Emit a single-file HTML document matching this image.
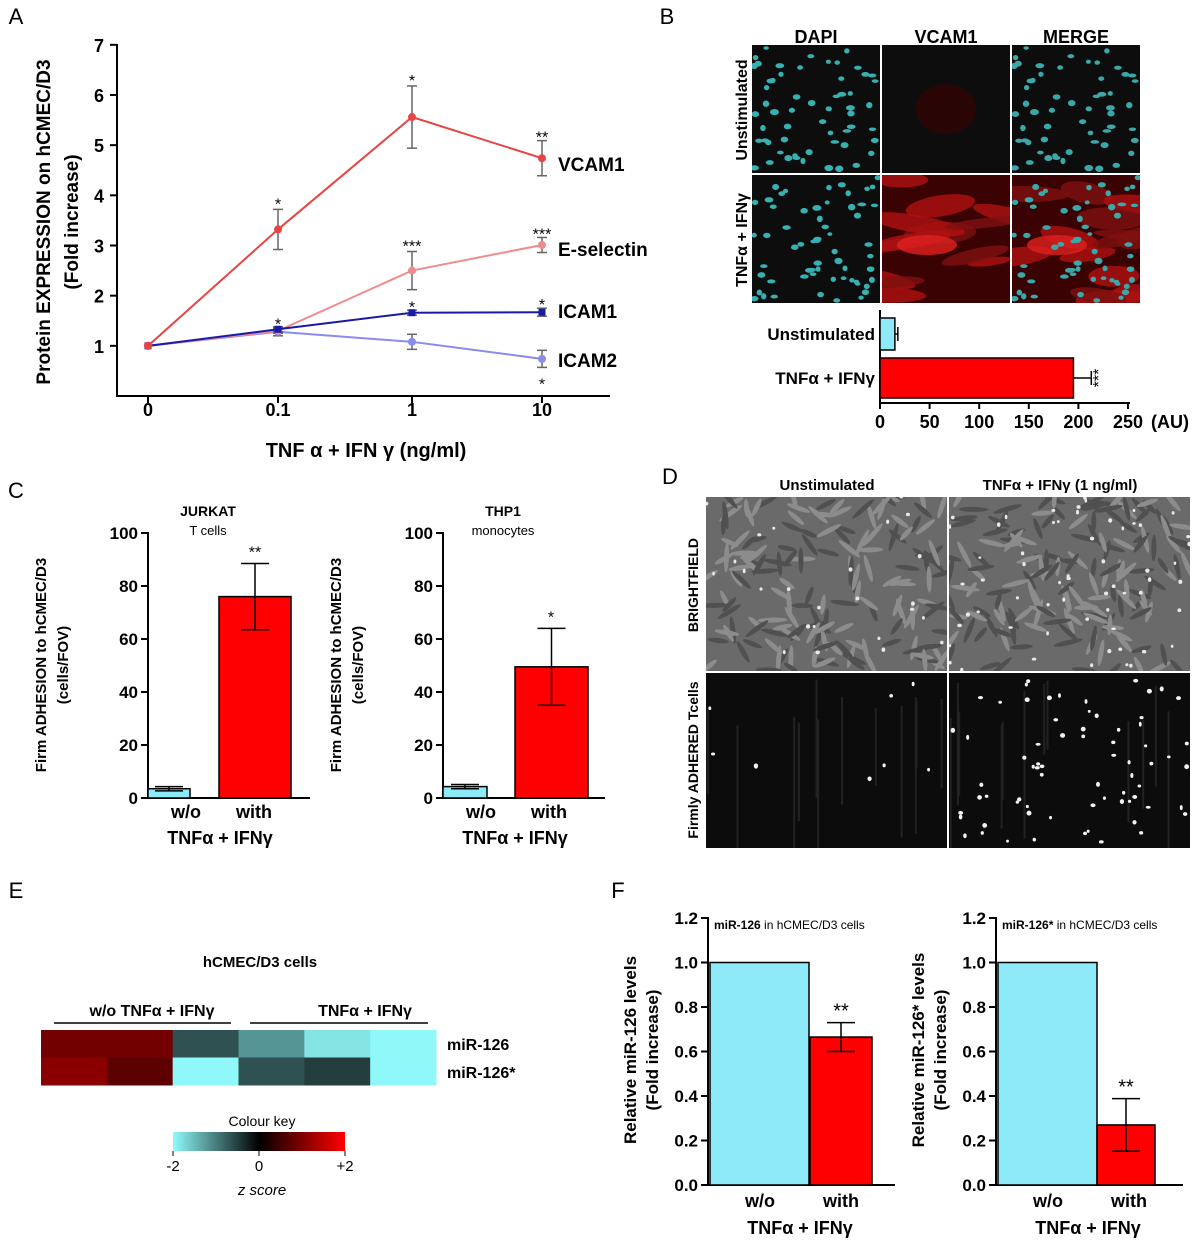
<!DOCTYPE html>
<html><head><meta charset="utf-8"><style>
body{margin:0;background:#fff;}
svg{display:block;font-family:"Liberation Sans",Arial,sans-serif;}
</style></head><body>
<svg id="fig" width="1200" height="1245" viewBox="0 0 1200 1245" xmlns="http://www.w3.org/2000/svg">
<defs id="defs"></defs>
<g id="A"></g>
<g id="B"></g>
<g id="C"></g>
<g id="D"></g>
<g id="E"></g>
<g id="F"></g>
</svg>
<script>
// ---- Panel A data ----
const aCats = ["0","0.1","1","10"];
const aYTicks = [1,2,3,4,5,6,7];
const vcam1 = [1,3.32,5.56,4.74];
const vcam1Err = [0,0.4,0.62,0.35];
const esel = [1,1.3,2.5,3.01];
const eselErr = [0,0.05,0.38,0.15];
const icam1 = [1,1.33,1.66,1.67];
const icam1Err = [0,0.05,0.05,0.08];
const icam2 = [1,1.28,1.08,0.74];
const icam2Err = [0,0.08,0.15,0.17];
// ---- Panel B data ----
const bCats = ["Unstimulated","TNFα + IFNγ"];
const bVals = [15,195];
const bErr = [3,18];
const bTicks = [0,50,100,150,200,250];
// ---- Panel C data ----
const cCats = ["w/o","with"];
const jurkat = [3.5,76];
const jurkatErr = [0.8,12.5];
const thp1 = [4.3,49.5];
const thp1Err = [0.8,14.5];
const cTicks = [0,20,40,60,80,100];
// ---- Panel E data ----
const eRows = ["miR-126","miR-126*"];
const eZ126 = [1.0,1.0,-0.65,-1.2,-1.85,-2];
const eZ126s = [1.2,0.8,-2,-0.65,-0.5,-2];
// ---- Panel F data ----
const fTicks = [0,0.2,0.4,0.6,0.8,1.0,1.2];
const mir126 = [1,0.665];
const mir126Err = [0,0.065];
const mir126s = [1,0.27];
const mir126sErr = [0,0.118];

const NS="http://www.w3.org/2000/svg";
function el(p,t,a){const e=document.createElementNS(NS,t);for(const k in a)e.setAttribute(k,a[k]);p.appendChild(e);return e;}
function tx(p,x,y,s,o){o=o||{};const e=el(p,"text",{x:x,y:y,"font-size":o.fs||16,"text-anchor":o.a||"middle","font-weight":o.w||"normal",fill:o.c||"#000"});if(o.it)e.setAttribute("font-style","italic");if(o.rot)e.setAttribute("transform","rotate(-90 "+x+" "+y+")");e.textContent=s;return e;}
function ln(p,x1,y1,x2,y2,c,w){return el(p,"line",{x1:x1,y1:y1,x2:x2,y2:y2,stroke:c||"#000","stroke-width":w||2});}
const defs=document.getElementById("defs");let clipN=0;
function clipped(p,x,y,w,h){const id="cl"+(clipN++);const cp=el(defs,"clipPath",{id:id});el(cp,"rect",{x:x,y:y,width:w,height:h});return el(p,"g",{"clip-path":"url(#"+id+")"});}

// ===== Panel A =====
(function(){
const g=document.getElementById("A");
const yA=v=>396-v*50.17;
const xs=[148,278,412,542];
const xA=i=>xs[i];
let t=tx(g,16,24,"A",{fs:22});
ln(g,117,44,117,397);ln(g,116,396,610,396);
aYTicks.forEach(v=>{ln(g,110,yA(v),117,yA(v));const e=tx(g,104,yA(v)+7,String(v),{fs:18,a:"end",w:"bold"});
});
aCats.forEach((c,i)=>{ln(g,xA(i),396,xA(i),403);const e=tx(g,xA(i),416,c,{fs:18,w:"bold"});
});
t=tx(g,366,457,"TNF α  + IFN γ  (ng/ml)",{fs:20,w:"bold"});
t=tx(g,50,222,"Protein EXPRESSION on hCMEC/D3",{fs:19,w:"bold",rot:1});
tx(g,78,222,"(Fold increase)",{fs:19,w:"bold",rot:1});
const series=[[icam2,icam2Err,"#8a8af0","ICAM2",367,"circle"],[esel,eselErr,"#f08c8c","E-selectin",256,"circle"],[icam1,icam1Err,"#1a1aa8","ICAM1",318,"square"],[vcam1,vcam1Err,"#e84444","VCAM1",171,"circle"]];
series.forEach(s=>{
 const sg=el(g,"g",{});
 const pts=s[0].map((v,i)=>xA(i)+","+yA(v)).join(" ");
 el(sg,"polyline",{points:pts,fill:"none",stroke:s[2],"stroke-width":2});
 s[0].forEach((v,i)=>{const e=s[1][i];if(e>0){ln(sg,xA(i),yA(v+e),xA(i),yA(v-e),"#666",1.5);ln(sg,xA(i)-5,yA(v+e),xA(i)+5,yA(v+e),"#666",1.5);ln(sg,xA(i)-5,yA(v-e),xA(i)+5,yA(v-e),"#666",1.5);}
  let m;if(s[5]=="square")m=el(sg,"rect",{x:xA(i)-3.5,y:yA(v)-3.5,width:7,height:7,fill:s[2]});else m=el(sg,"circle",{cx:xA(i),cy:yA(v),r:4,fill:s[2]});
  });
 const l=tx(sg,558,s[4],s[3],{fs:19,w:"bold",a:"start"});
});
const stars=[[1,yA(vcam1[1]+vcam1Err[1])-6,"*"],[2,yA(vcam1[2]+vcam1Err[2])-6,"*"],[3,yA(vcam1[3]+vcam1Err[3])-4,"**"],[2,yA(esel[2]+eselErr[2])-6,"***"],[3,yA(esel[3]+eselErr[3])-4,"***"],[1,yA(icam1[1])-6,"*"],[2,yA(icam1[2])-6,"*"],[3,yA(icam1[3])-8,"*"],[3,yA(icam2[3]-icam2Err[3])+16,"*"]];
stars.forEach(s=>tx(g,xA(s[0]),s[1]+6,s[2],{fs:16}));
})();

// helper for fake microscopy
let seed=7;function rnd(){seed=(seed*16807)%2147483647;return seed/2147483647;}
function cells(p,x0,y0,w,h,n,col,rx,ry){for(let i=0;i<n;i++){el(p,"ellipse",{cx:x0+rnd()*w,cy:y0+rnd()*h,rx:rx*(0.7+rnd()*0.6),ry:ry*(0.7+rnd()*0.6),fill:col});}}

// ===== Panel B =====
(function(){
const g=document.getElementById("B");
let t=tx(g,667,24,"B",{fs:22});
["DAPI","VCAM1","MERGE"].forEach((h,i)=>{const e=tx(g,816+i*130,43,h,{fs:18,w:"bold"});});
t=tx(g,747,110,"Unstimulated",{fs:16,w:"bold",rot:1});
t=tx(g,747,240,"TNFα + IFNγ",{fs:16,w:"bold",rot:1});
for(let r=0;r<2;r++)for(let c=0;c<3;c++){
 const x=752+c*130,y=45+r*130;
 const ig=clipped(g,x,y,128,128);
 el(ig,"rect",{x:x,y:y,width:128,height:128,fill:"#0d0d0d"});
 if(c>=1&&r==1){el(ig,"rect",{x:x,y:y,width:128,height:128,fill:"#3a0202"});
  seed=200+c;for(let i=0;i<14;i++){el(ig,"ellipse",{cx:x+rnd()*128,cy:y+rnd()*128,rx:20+rnd()*30,ry:4+rnd()*8,fill:rnd()>0.5?"#b01010":"#801010",opacity:0.8,transform:"rotate("+(-15+rnd()*30)+" "+(x+64)+" "+(y+64)+")"});}
  el(ig,"ellipse",{cx:x+45,cy:y+70,rx:30,ry:10,fill:"#e02020",opacity:0.8});}
 if(c==1&&r==0){el(ig,"ellipse",{cx:x+64,cy:y+64,rx:30,ry:25,fill:"#2a0505"});}
 if(c!=1){seed=100+r*10;cells(ig,x+2,y+2,124,124,60,c==2?"#3aa8a8":"#36b0b0",3.5,2.5);}
}
ln(g,880,310,880,404);
const xB=v=>880+v*(1128-880)/250;
const bys=[318,358],bh=[32,40];
bCats.forEach((c,i)=>{const r=el(g,"rect",{x:880,y:bys[i],width:xB(bVals[i])-880,height:bh[i],fill:i?"#ff0000":"#8eeaf8",stroke:"#000","stroke-width":1.5});
 
 const cy=bys[i]+bh[i]/2,ex=xB(bVals[i]+bErr[i]);ln(g,xB(bVals[i]),cy,ex,cy,"#000",1.5);ln(g,ex,cy-7,ex,cy+7,"#000",1.5);
 const l=tx(g,875,cy+6,c,{fs:17,w:"bold",a:"end"});});
tx(g,1104,378,"***",{fs:16,rot:1});
ln(g,879,403,1130,403);
bTicks.forEach(v=>{ln(g,xB(v),403,xB(v),409);const e=tx(g,xB(v),428,String(v),{fs:18,w:"bold"});});
tx(g,1170,428,"(AU)",{fs:18,w:"bold"});
})();

// ===== Panel C =====
function barChart(g,ax,title,sub,vals,errs,xs,ws,name){
 const yC=v=>798-v*2.65;
 ln(g,ax,532,ax,799);ln(g,ax-1,798,ax+162,798);
 cTicks.forEach(v=>{ln(g,ax-7,yC(v),ax,yC(v));const e=tx(g,ax-10,yC(v)+6,String(v),{fs:17,w:"bold",a:"end"});});
 let t=tx(g,ax+60,516,title,{fs:14,w:"bold"});
 tx(g,ax+60,535,sub,{fs:13});
 vals.forEach((v,i)=>{const r=el(g,"rect",{x:xs[i],y:yC(v),width:ws[i],height:798-yC(v),fill:i?"#ff0000":"#8eeaf8",stroke:"#000","stroke-width":1.5});
  
  const cx=xs[i]+ws[i]/2,e=errs[i];ln(g,cx,yC(v+e),cx,yC(v-e),"#000",1.5);ln(g,cx-14,yC(v+e),cx+14,yC(v+e),"#000",1.5);ln(g,cx-14,yC(v-e),cx+14,yC(v-e),"#000",1.5);
  const l=tx(g,[ax+38,ax+106][i],818,cCats[i],{fs:18,w:"bold"});});
 tx(g,ax+72,844,"TNFα  + IFNγ",{fs:18,w:"bold"});
 tx(g,ax-102,665,"Firm ADHESION to hCMEC/D3",{fs:15,w:"bold",rot:1});
 tx(g,ax-80,665,"(cells/FOV)",{fs:15,w:"bold",rot:1});
 return yC;
}
(function(){
const g=document.getElementById("C");
let t=tx(g,16,498,"C",{fs:22});
const y1=barChart(g,148,"JURKAT","T cells",jurkat,jurkatErr,[148,219],[42,72],"jurkat");
tx(g,255,y1(jurkat[1]+jurkatErr[1])-6,"**",{fs:16});
const y2=barChart(g,443,"THP1","monocytes",thp1,thp1Err,[443,515],[44,73],"thp1");
tx(g,551,y2(thp1[1]+thp1Err[1])-6,"*",{fs:16});
})();

// ===== Panel D =====
(function(){
const g=document.getElementById("D");
let t=tx(g,670,484,"D",{fs:22});
t=tx(g,827,490,"Unstimulated",{fs:15,w:"bold"});
t=tx(g,1060,490,"TNFα + IFNγ (1 ng/ml)",{fs:15,w:"bold"});
tx(g,698,585,"BRIGHTFIELD",{fs:14,w:"bold",rot:1});
tx(g,698,760,"Firmly ADHERED Tcells",{fs:14,w:"bold",rot:1});
for(let c=0;c<2;c++){
 const x=706+c*243;
 const top=clipped(g,x,497,241,174);
 el(top,"rect",{x:x,y:497,width:241,height:174,fill:"#6a6a6a"});
 seed=300+c;for(let i=0;i<160;i++){const cx=x+rnd()*241,cy=497+rnd()*174;el(top,"ellipse",{cx:cx,cy:cy,rx:9+rnd()*6,ry:2.5,fill:rnd()>0.5?"#8c8c8c":"#505050",transform:"rotate("+(rnd()*180)+" "+cx+" "+cy+")"});}
 seed=350+c;cells(top,x,497,241,174,c?60:25,"#e8e8e8",1.8,1.8);
 const bot=clipped(g,x,673,241,175);
 el(bot,"rect",{x:x,y:673,width:241,height:175,fill:"#0c0c0c"});
 seed=400+c;for(let i=0;i<12;i++){el(bot,"rect",{x:x+rnd()*238,y:673+rnd()*60,width:2,height:60+rnd()*100,fill:"#222"});}
 seed=450+c;cells(bot,x+3,676,235,168,c?70:8,"#f2f2f2",2,2);
}
})();

// ===== Panel E =====
(function(){
const g=document.getElementById("E");
let t=tx(g,16,898,"E",{fs:22});
t=tx(g,260,967,"hCMEC/D3 cells",{fs:15,w:"bold"});
tx(g,152,1016,"w/o TNFα + IFNγ",{fs:16,w:"bold"});tx(g,365,1016,"TNFα + IFNγ",{fs:16,w:"bold"});
ln(g,54,1023,231,1023,"#000",1.5);ln(g,250,1023,428,1023,"#000",1.5);
function col(z){const cy=[144,248,248],bk=[0,0,0],rd=[230,0,0];let a=bk,b,f;if(z<0){b=cy;f=Math.min(1,-z/2);}else{b=rd;f=Math.min(1,z/2);}
 return "rgb("+a.map((v,i)=>Math.round(v+(b[i]-v)*f)).join(",")+")";}
const cw=(436-41)/6;
[eZ126,eZ126s].forEach((row,r)=>row.forEach((z,i)=>{const c=el(g,"rect",{x:41+i*cw,y:1030+r*27.5,width:cw+0.5,height:28,fill:col(z)});
 }));
eRows.forEach((n,r)=>{const l=tx(g,447,1050+r*28,n,{fs:16,w:"bold",a:"start"});});
const lg=el(defs,"linearGradient",{id:"ck"});
el(lg,"stop",{offset:"0","stop-color":"#90fafa"});el(lg,"stop",{offset:"0.5","stop-color":"#000"});el(lg,"stop",{offset:"1","stop-color":"#ff0000"});
const k=el(g,"rect",{x:173,y:1132,width:172,height:19,fill:"url(#ck)"});
tx(g,262,1126,"Colour key",{fs:14});
[[173,"-2"],[259,"0"],[345,"+2"]].forEach(a=>{ln(g,a[0],1151,a[0],1156,"#000",1);tx(g,a[0],1171,a[1],{fs:15});});
tx(g,262,1195,"z score",{fs:15,it:1});
})();

// ===== Panel F =====
function fChart(g,ax,title,titleB,vals,errs,xs,ws,name,ylab){
 const yF=v=>1185-v*(1185-918)/1.2;
 ln(g,ax,917,ax,1186);ln(g,ax-1,1185,ax+187,1185);
 fTicks.forEach(v=>{ln(g,ax-7,yF(v),ax,yF(v));const e=tx(g,ax-10,yF(v)+6,v.toFixed(1),{fs:17,w:"bold",a:"end"});});
 const tt=el(g,"text",{x:ax+6,y:929,"font-size":12});
 const b=el(tt,"tspan",{"font-weight":"bold"});b.textContent=titleB;const r=el(tt,"tspan",{});r.textContent=title;
 vals.forEach((v,i)=>{const rr=el(g,"rect",{x:xs[i],y:yF(v),width:ws[i],height:1185-yF(v),fill:i?"#ff0000":"#8eeaf8",stroke:"#000","stroke-width":1.5});
  
  const cx=xs[i]+ws[i]/2,e=errs[i];if(e>0){ln(g,cx,yF(v+e),cx,yF(v-e),"#000",1.5);ln(g,cx-14,yF(v+e),cx+14,yF(v+e),"#000",1.5);ln(g,cx-14,yF(v-e),cx+14,yF(v-e),"#000",1.5);
  tx(g,cx,yF(v+e)-5,"**",{fs:20});}
  const l=tx(g,[ax+52,ax+133][i],1207,cCats[i],{fs:18,w:"bold"});});
 tx(g,ax+92,1234,"TNFα  + IFNγ",{fs:18,w:"bold"});
 tx(g,ax-72,1050,ylab,{fs:17,w:"bold",rot:1});
 tx(g,ax-50,1050,"(Fold increase)",{fs:17,w:"bold",rot:1});
}
(function(){
const g=document.getElementById("F");
let t=tx(g,618,898,"F",{fs:22});
fChart(g,708," in hCMEC/D3 cells","miR-126",mir126,mir126Err,[710,810],[99,62],"mir126","Relative miR-126 levels");
fChart(g,996," in hCMEC/D3 cells","miR-126*",mir126s,mir126sErr,[998,1097],[99,58],"mir126s","Relative miR-126* levels");
})();
</script>
</body></html>
